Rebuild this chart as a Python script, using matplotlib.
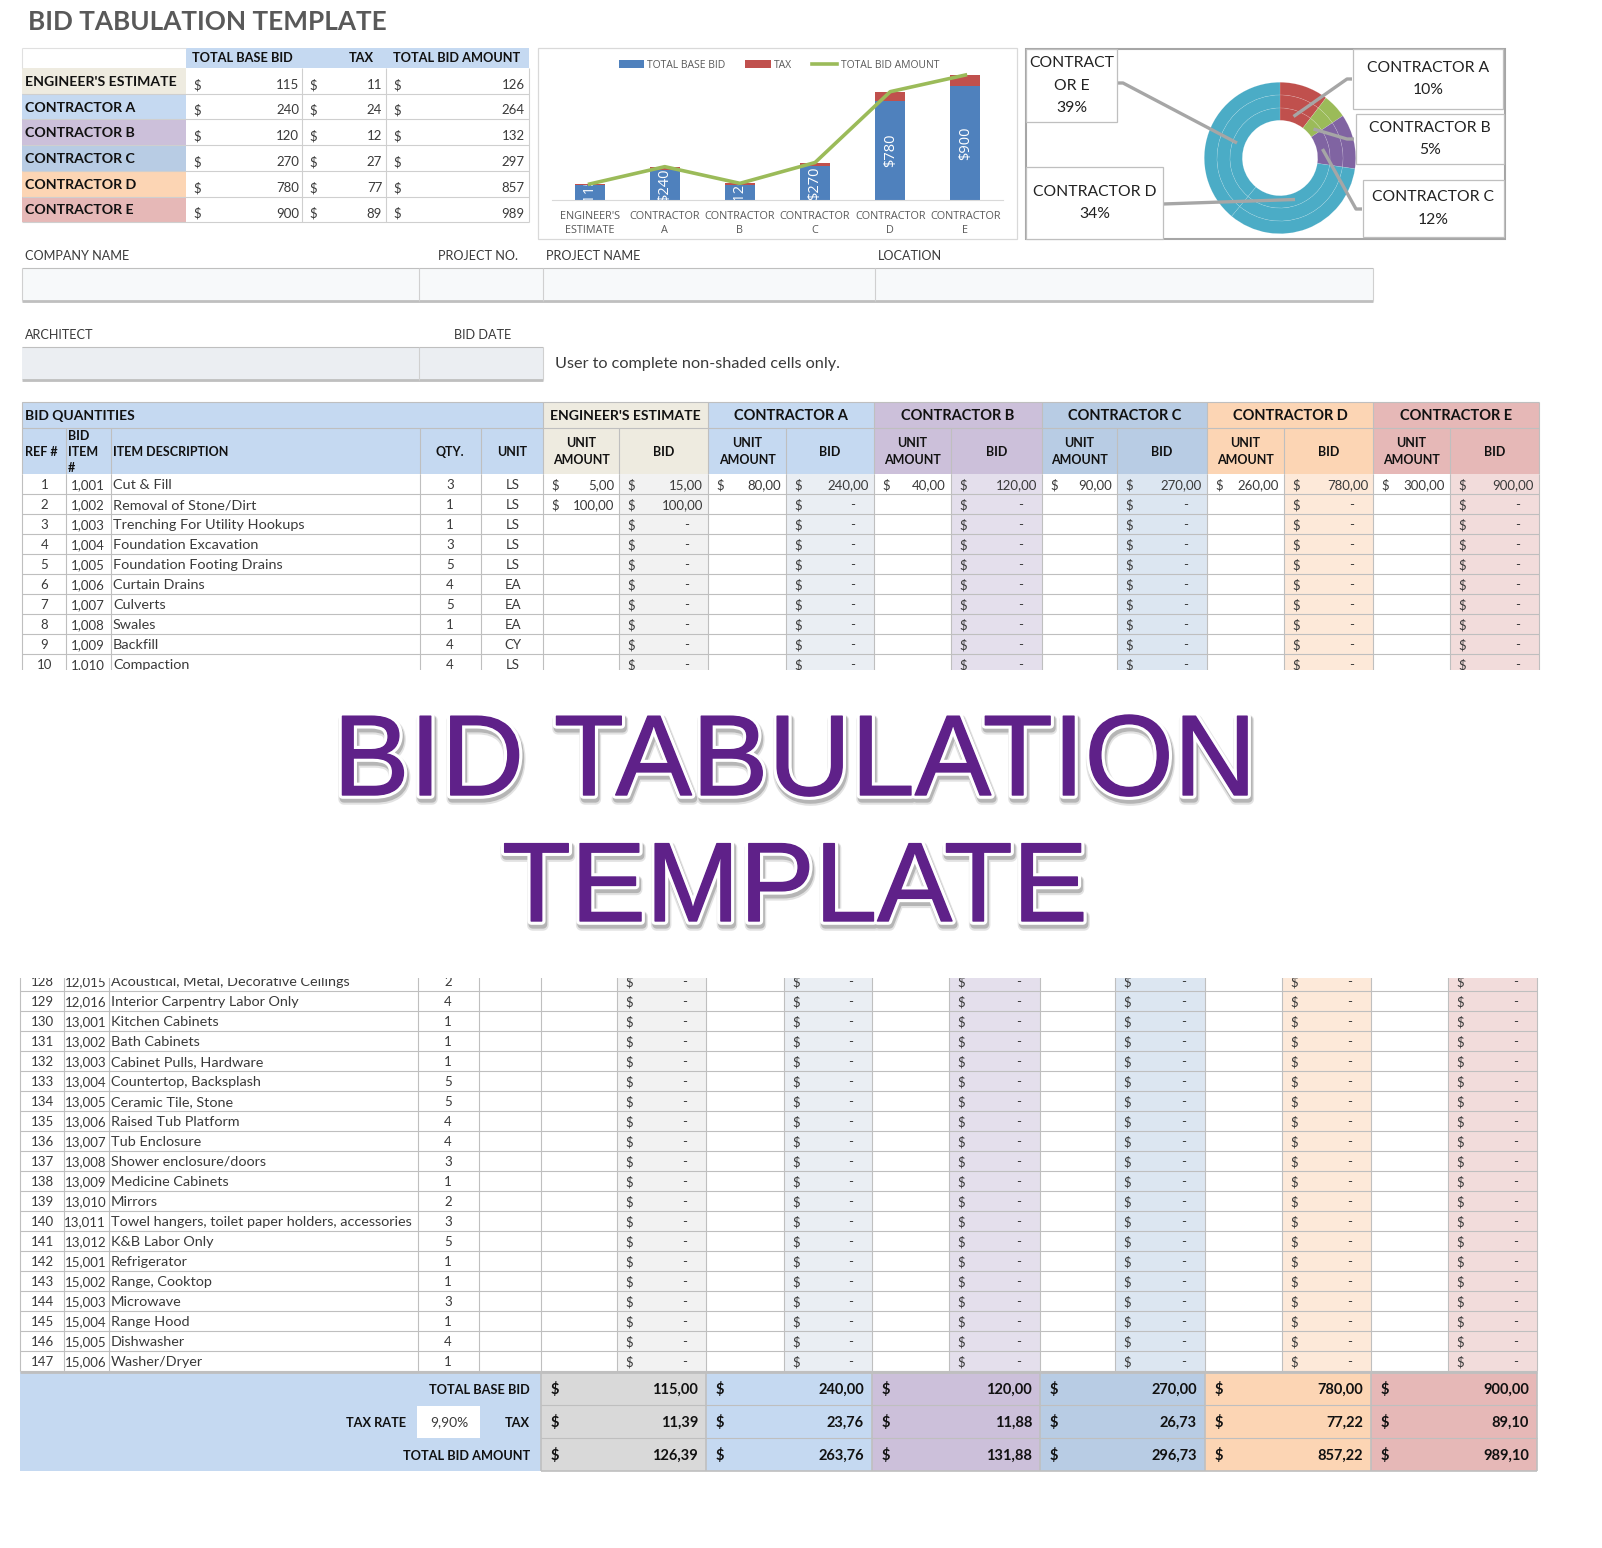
# Bid tabulation sheet: tables in pixel coords, two small charts on top

import matplotlib
matplotlib.use("Agg")
import matplotlib.pyplot as plt
import matplotlib.patheffects as pe
from matplotlib.patches import Rectangle

W, H = 1602, 1548

# ---- data ----
names = ["ENGINEER'S ESTIMATE", "CONTRACTOR A", "CONTRACTOR B", "CONTRACTOR C", "CONTRACTOR D", "CONTRACTOR E"]
chart_names = ["ENGINEER'S\nESTIMATE", "CONTRACTOR\nA", "CONTRACTOR\nB", "CONTRACTOR\nC", "CONTRACTOR\nD", "CONTRACTOR\nE"]
pie_names = ["CONTRACTOR A", "CONTRACTOR B", "CONTRACTOR C", "CONTRACTOR D", "CONTRACT\nOR E"]
base_bid = [115.00, 240.00, 120.00, 270.00, 780.00, 900.00]
tax = [11.39, 23.76, 11.88, 26.73, 77.22, 89.10]
total_bid = [126.39, 263.76, 131.88, 296.73, 857.22, 989.10]
tax_rate = "9,90%"

first_unit = [5.00, 80.00, 40.00, 90.00, 260.00, 300.00]
first_bid = [15.00, 240.00, 120.00, 270.00, 780.00, 900.00]
second_unit = [100.00, None, None, None, None, None]
second_bid = [100.00, None, None, None, None, None]

top_refs = ["1", "2", "3", "4", "5", "6", "7", "8", "9", "10"]
top_items = ["1,001", "1,002", "1,003", "1,004", "1,005", "1,006", "1,007", "1,008", "1,009", "1,010"]
top_desc = ["Cut & Fill", "Removal of Stone/Dirt", "Trenching For Utility Hookups", "Foundation Excavation",
            "Foundation Footing Drains", "Curtain Drains", "Culverts", "Swales", "Backfill", "Compaction"]
top_qty = [3, 1, 1, 3, 5, 4, 5, 1, 4, 4]
top_unit = ["LS", "LS", "LS", "LS", "LS", "EA", "EA", "EA", "CY", "LS"]

low_refs = [str(i) for i in range(128, 148)]
low_items = ["12,015", "12,016", "13,001", "13,002", "13,003", "13,004", "13,005", "13,006", "13,007", "13,008",
             "13,009", "13,010", "13,011", "13,012", "15,001", "15,002", "15,003", "15,004", "15,005", "15,006"]
low_desc = ["Acoustical, Metal, Decorative Ceilings", "Interior Carpentry Labor Only", "Kitchen Cabinets",
            "Bath Cabinets", "Cabinet Pulls, Hardware", "Countertop, Backsplash", "Ceramic Tile, Stone",
            "Raised Tub Platform", "Tub Enclosure", "Shower enclosure/doors", "Medicine Cabinets", "Mirrors",
            "Towel hangers, toilet paper holders, accessories", "K&B Labor Only", "Refrigerator", "Range, Cooktop",
            "Microwave", "Range Hood", "Dishwasher", "Washer/Dryer"]
low_qty = [2, 4, 1, 1, 1, 5, 5, 4, 4, 3, 1, 2, 3, 5, 1, 1, 3, 1, 4, 1]

# ---- colours ----
head_col = ["#EEEBE0", "#C5D9F1", "#CCC0DA", "#B8CCE4", "#FCD5B4", "#E6B8B7"]
bid_col = ["#F2F2F2", "#EAEEF3", "#E4DFEC", "#DCE6F1", "#FDE9D9", "#F2DCDB"]
total_col = ["#D9D9D9", "#C5D9F1", "#CCC0DA", "#B8CCE4", "#FCD5B4", "#E6B8B7"]
BLUE = "#C5D9F1"
GRID = "#BFBFBF"
INK = "#3A3A3A"
DARK = "#111111"
FONT = "Lato"

fig = plt.figure(figsize=(W / 100, H / 100), dpi=100, facecolor="white")
ax = fig.add_axes([0, 0, 1, 1])
ax.set_xlim(0, W)
ax.set_ylim(H, 0)
ax.axis("off")


def put(x, y, s, size=9.5, ha="left", weight="normal", color=INK, family=FONT, **kw):
    return ax.text(x, y, s, fontsize=size, ha=ha, va="center", fontweight=weight, color=color,
                   family=family, **kw)


def box(x0, y0, x1, y1, fc, ec="none", lw=0, target=ax, z=1):
    target.add_patch(Rectangle((x0, y0), x1 - x0, y1 - y0, facecolor=fc, edgecolor=ec, linewidth=lw, zorder=z))


def hline(y, x0, x1, color=GRID, lw=0.8):
    ax.plot([x0, x1], [y, y], color=color, lw=lw, solid_capstyle="butt", zorder=2)


def vline(x, y0, y1, color=GRID, lw=0.8):
    ax.plot([x, x], [y0, y1], color=color, lw=lw, solid_capstyle="butt", zorder=2)


def money(v):
    return f"{v:,.2f}".replace(",", " ").replace(".", ",").replace(" ", ".")


# ---- title ----
put(28, 22, "BID TABULATION TEMPLATE", size=18.8, weight="bold", color="#595959")

# ---- summary table ----
sum_x = [22, 186, 302, 386, 529]
sum_y = [48, 68, 94, 119, 145, 171, 197, 222]
box(sum_x[1], sum_y[0], sum_x[4], sum_y[1], BLUE)
put(192, 58, "TOTAL BASE BID", size=9.2, weight="bold", color=DARK)
put(374, 58, "TAX", size=9.2, weight="bold", color=DARK, ha="right")
put(393, 58, "TOTAL BID AMOUNT", size=9.2, weight="bold", color=DARK)
hline(sum_y[0], sum_x[0], sum_x[1], "#E0E0E0")
vline(sum_x[0], sum_y[0], sum_y[1], "#E0E0E0")
for i, name in enumerate(names):
    y0, y1 = sum_y[i + 1], sum_y[i + 2]
    box(sum_x[0], y0, sum_x[1], y1, head_col[i])
    put(25, (y0 + y1) / 2 + 1, name, size=10.2, weight="bold", color=DARK)
    hline(y1, sum_x[0], sum_x[4], "#CFCFCF")
    ty = (y0 + y1) / 2 + 4
    put(193.5, ty, "$")
    put(299, ty, f"{round(base_bid[i])}", ha="right")
    put(309.5, ty, "$")
    put(382, ty, f"{round(tax[i])}", ha="right")
    put(393.5, ty, "$")
    put(524.5, ty, f"{round(total_bid[i])}", ha="right")
for x in sum_x[2:]:
    vline(x, sum_y[1], sum_y[-1], "#CFCFCF")

# ---- chart frames ----
box(538, 48, 1017, 239, "white", "#D9D9D9", 0.9)
box(1026, 49, 1505, 239, "white", "#A6A6A6", 1.5)

# ---- form fields ----
put(25, 256, "COMPANY NAME", size=9.1)
put(438, 256, "PROJECT NO.", size=9.1)
put(545.5, 256, "PROJECT NAME", size=9.1)
put(878, 256, "LOCATION", size=9.1)
put(25, 335, "ARCHITECT", size=9.1)
put(453.5, 335, "BID DATE", size=9.1)
put(555, 364, "User to complete non-shaded cells only.", size=11.7)
box(22, 268, 1373, 301, "#F7F9FA")
box(22, 347, 543, 380, "#EBEEF2")
hline(268, 22, 1373)
hline(301, 22, 1373, lw=2)
hline(347, 22, 543)
hline(380, 22, 543, lw=2)
for x in [419, 543, 875, 1373]:
    vline(x, 268, 301, "#D0D0D0")
vline(22, 268, 301, "#D0D0D0")
vline(419, 347, 380, "#D0D0D0")
vline(543, 347, 380, "#D0D0D0")

# ---- main table ----
col_edges = [543, 619, 708, 786, 874, 951, 1042, 1117, 1207, 1284, 1373, 1450, 1539]
box(22, 402, 543, 474, BLUE)
put(25, 416.5, "BID QUANTITIES", size=10, weight="bold", color=DARK)
put(25, 452, "REF #", size=9, weight="bold", color=DARK)
put(68, 435.5, "BID", size=9, weight="bold", color=DARK)
put(68, 452, "ITEM", size=9, weight="bold", color=DARK)
put(68, 468, "#", size=9, weight="bold", color=DARK)
put(113, 452, "ITEM DESCRIPTION", size=9, weight="bold", color=DARK)
put(450, 452, "QTY.", size=9, weight="bold", color=DARK, ha="center")
put(512, 452, "UNIT", size=9, weight="bold", color=DARK, ha="center")
hline(428, 22, 1539)
hline(402, 22, 1539)
for x in [65.5, 110.5, 420, 481]:
    vline(x, 428, 474)
for i, name in enumerate(names):
    a, b, c = col_edges[2 * i], col_edges[2 * i + 1], col_edges[2 * i + 2]
    box(a, 402, c, 474, head_col[i])
    put((a + c) / 2, 416.5, name, size=10.1 if i == 0 else 10.5, weight="bold", color=DARK, ha="center")
    put((a + b) / 2, 443, "UNIT", size=9, weight="bold", color=DARK, ha="center")
    put((a + b) / 2, 460, "AMOUNT", size=9, weight="bold", color=DARK, ha="center")
    put((b + c) / 2, 452, "BID", size=9, weight="bold", color=DARK, ha="center")
    vline(b, 428, 474)
    vline(c, 402, 474)
vline(22, 402, 474)
vline(543, 402, 474)


def draw_rows(refs, items, desc, qty, units, y_top, dx, item_x, unit_vals=None, bid_vals=None):
    edges = [e + dx for e in col_edges]
    n = len(refs)
    triples = list(zip(edges[0::2], edges[1::2], edges[2::2]))
    for i, (a, b, c) in enumerate(triples):
        box(b, y_top, c, y_top + 20 * n, bid_col[i])
    for r in range(n):
        y0 = y_top + 20 * r
        y = y0 + 11
        put(44.5 + dx, y, refs[r], ha="center")
        put(item_x, y, items[r], ha="right")
        put(113 + dx, y, desc[r], size=10.4)
        put(450 + dx, y, str(qty[r]), ha="center")
        if units is not None:
            put(513 + dx, y, units[r], ha="center")
        for i, (a, b, c) in enumerate(triples):
            uv = unit_vals[r][i] if unit_vals and r < len(unit_vals) else None
            bv = bid_vals[r][i] if bid_vals and r < len(bid_vals) else None
            if uv is not None:
                put(a + 8, y, "$")
                put(b - 5, y, money(uv), ha="right")
            put(b + 8, y, "$")
            if bv is not None:
                put(c - 5, y, money(bv), ha="right")
            else:
                put(c - 21, y, "-", ha="center")
        hline(y0 + 20, 22 + dx, 1539 + dx)
    for x in [22, 65.5, 110.5, 420, 481] + col_edges:
        vline(x + dx, y_top, y_top + 20 * n)


draw_rows(top_refs, top_items, top_desc, top_qty, top_unit, 474, 0, 105,
          [first_unit, second_unit], [first_bid, second_bid])
draw_rows(low_refs, low_items, low_desc, low_qty, None, 971, -2, 106)

# clipped part of the sheet
box(0, 670, W, 977.5, "white", z=6)

# ---- big title ----
purple = "#5F2189"
effects = [pe.Stroke(linewidth=8, foreground="#E2E2E2", offset=(1, -3)),
           pe.Stroke(linewidth=6, foreground="#B5B5B5", offset=(1, -2.5)),
           pe.Stroke(linewidth=5.5, foreground="white"),
           pe.Stroke(linewidth=1, foreground=purple),
           pe.Normal()]
for txt, yb, sz in [("BID TABULATION", 795, 82.5), ("TEMPLATE", 921, 81)]:
    ax.text(795, yb, txt, fontsize=sz, ha="center", va="baseline", color=purple, family="Liberation Sans",
            path_effects=effects, zorder=7)

# ---- totals block ----
edges_low = [e - 2 for e in col_edges]
row_y = [1372, 1405, 1438, 1471]
box(20, row_y[0], 541, row_y[3], BLUE)
box(417, 1406, 479.5, 1438, "white", z=2)
put(449, 1422.5, tax_rate, ha="center", size=10, zorder=3)
put(530, 1390, "TOTAL BASE BID", ha="right", size=9.2, weight="bold", color=DARK)
put(406, 1423, "TAX RATE", ha="right", size=9.2, weight="bold", color=DARK)
put(530, 1423, "TAX", ha="right", size=9.2, weight="bold", color=DARK)
put(530, 1456, "TOTAL BID AMOUNT", ha="right", size=9.2, weight="bold", color=DARK)
hline(row_y[0], 20, 1537, lw=2)
for i in range(6):
    a, c = edges_low[2 * i], edges_low[2 * i + 2]
    box(a, row_y[0], c, row_y[3], total_col[i])
    for vals, k in ((base_bid, 0), (tax, 1), (total_bid, 2)):
        y = (row_y[k] + row_y[k + 1]) / 2 + 1
        put(a + 10, y, "$", size=10.5, weight="bold", color=DARK)
        put(c - 8, y, money(vals[i]), size=10.5, weight="bold", color=DARK, ha="right")
    vline(c, row_y[0], row_y[3], lw=1.2)
vline(edges_low[0], row_y[0], row_y[3], lw=1.2)
hline(row_y[1], edges_low[0], 1537, lw=0.8)
hline(row_y[2], edges_low[0], 1537, lw=0.8)
hline(row_y[3], edges_low[0], 1537, lw=1.2)


def px_axes(x0, y0, x1, y1):
    return fig.add_axes([x0 / W, 1 - y1 / H, (x1 - x0) / W, (y1 - y0) / H])


# ---- stacked bars with line ----
bar_ax = px_axes(552, 50, 1003, 200)
bar_ax.patch.set_alpha(0)
xs = list(range(len(chart_names)))
bars = bar_ax.bar(xs, base_bid, width=0.4, color="#4F81BD", label="TOTAL BASE BID")
tax_bars = bar_ax.bar(xs, tax, width=0.4, bottom=base_bid, color="#C0504D", label="TAX")
total_line, = bar_ax.plot(xs, total_bid, color="#9BBB59", lw=2.6, label="TOTAL BID AMOUNT")
bar_ax.set_xlim(-0.5, 5.5)
bar_ax.set_ylim(0, 1187)
bar_ax.set_yticks([])
bar_ax.set_xticks(xs)
bar_ax.set_xticklabels(chart_names, fontsize=7.8, color="#595959", family="Open Sans", linespacing=1.35)
bar_ax.tick_params(axis="x", length=0, pad=8)
for s in ["top", "left", "right"]:
    bar_ax.spines[s].set_visible(False)
bar_ax.spines["bottom"].set_color("#D9D9D9")
labels = bar_ax.bar_label(bars, labels=[f"${round(v)}" for v in base_bid], label_type="center", rotation=90,
                          color="white", fontsize=10.5, family="Open Sans")
for t, b in zip(labels, bars):
    t.set_clip_path(b)
    t.set_clip_on(True)
leg = bar_ax.legend([bars, tax_bars, total_line], ["TOTAL BASE BID", "TAX", "TOTAL BID AMOUNT"], loc="center",
                    bbox_to_anchor=(0.503, 0.9), ncol=3, frameon=False, labelcolor="#595959",
                    prop={"family": "Open Sans", "size": 7.5}, handlelength=2.45, handletextpad=0.3,
                    columnspacing=1.9, handleheight=0.7)

# ---- donut, three rings of the same shares ----
shares = total_bid[1:]
pie_colors = ["#C0504D", "#9BBB59", "#8064A2", "#4BACC6", "#4BACC6"]
pie_ax = px_axes(1280 - 80, 158 - 80, 1280 + 80, 158 + 80)
R = 75.7
for outer, inner in [(R, 63), (63, 50), (50, 37.7)]:
    pie_ax.pie(shares, radius=outer / 80, startangle=90, counterclock=False, colors=pie_colors,
               wedgeprops=dict(width=(outer - inner) / 80, edgecolor=(1, 1, 1, 0.22), linewidth=0.35))
pie_ax.set_xlim(-1, 1)
pie_ax.set_ylim(-1, 1)

# leaders and callouts sit above everything
over = fig.add_axes([0, 0, 1, 1], zorder=5)
over.set_xlim(0, W)
over.set_ylim(H, 0)
over.axis("off")
over.patch.set_alpha(0)
leaders = [[(1352, 79), (1347, 79), (1293.5, 116.5)],
           [(1354, 139), (1347, 139), (1313.5, 129)],
           [(1362, 209), (1356, 209), (1322.5, 149)],
           [(1163, 204), (1295, 199.5)],
           [(1117, 83), (1123, 83), (1237, 143)]]
for pts in leaders:
    over.plot([p[0] for p in pts], [p[1] for p in pts], color="#A6A6A6", lw=2.4, solid_capstyle="butt")
callouts = [(1353, 49, 1503, 109), (1356, 114, 1504, 164), (1363, 180, 1504, 237), (1026, 167, 1163, 239),
            (1026, 49, 1117, 122)]
sum_shares = sum(shares)
for (x0, y0, x1, y1), name, v in zip(callouts, pie_names, shares):
    box(x0, y0, x1, y1, "white", "#BFBFBF", 0.9, target=over, z=3)
    over.text((x0 + x1) / 2, (y0 + y1) / 2, f"{name}\n{round(v / sum_shares * 100)}%", fontsize=11.3, ha="center",
              va="center", family="Lato", color="#222222", linespacing=1.78, zorder=4)

fig.savefig("out.png", dpi=100, facecolor="white")
